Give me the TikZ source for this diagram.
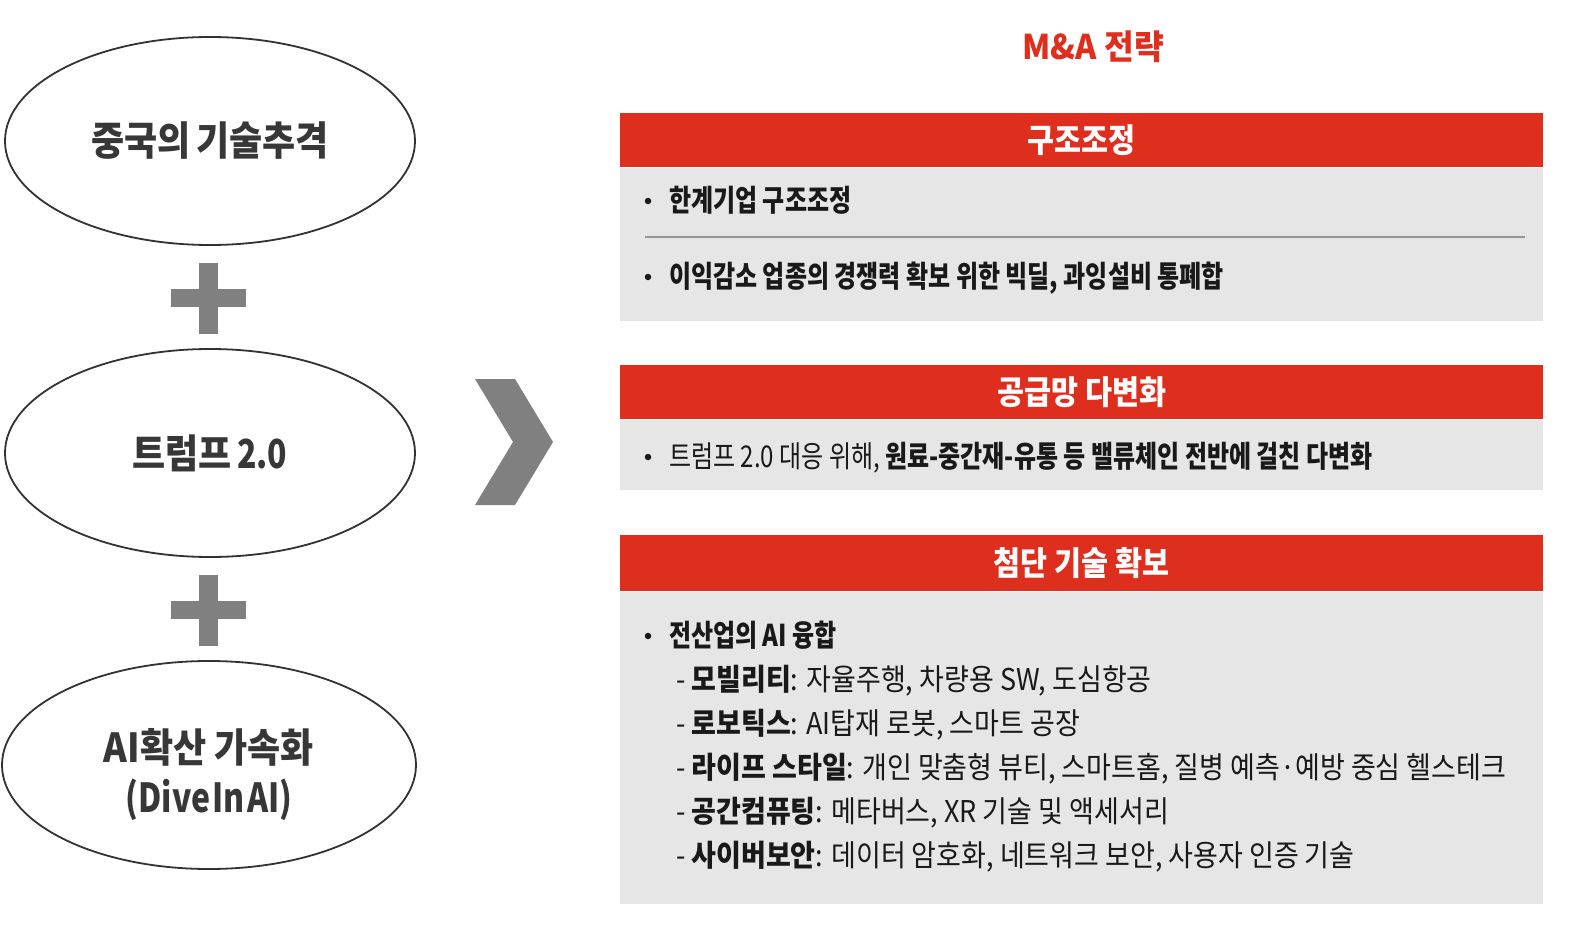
\documentclass[tikz,border=0pt]{standalone}
\usepackage{fontspec}
\usetikzlibrary{shapes.geometric}
\newfontfamily\krbul{Noto Sans CJK KR}[FakeStretch=0.8]
\newfontfamily\krsub{Noto Sans CJK KR}[FakeStretch=0.9]
\newfontfamily\krhdr{Noto Sans CJK KR}[FakeStretch=0.89]
\newfontfamily\krttl{Noto Sans CJK KR}[FakeStretch=0.95]
\newfontfamily\krell{Noto Sans CJK KR}[FakeStretch=0.9]
\newfontfamily\krellnar{Noto Sans CJK KR}[FakeStretch=0.8]
\definecolor{hred}{RGB}{222,46,30}
\definecolor{bodyg}{RGB}{230,230,230}
\definecolor{plusg}{RGB}{128,128,128}
\definecolor{txtc}{RGB}{25,25,25}
\definecolor{ellc}{RGB}{50,50,50}
\definecolor{elltxt}{RGB}{55,55,55}
\definecolor{sepc}{RGB}{150,150,150}
\tikzset{
  ellnode/.style={ellipse, draw=ellc, line width=1.8pt, minimum width=410, minimum height=208, inner sep=0},
  elltext/.style={font=\krell\bfseries\fontsize{40pt}{50pt}\selectfont, text=elltxt, align=center, inner sep=0},
  hdr/.style={fill=hred, minimum width=923, inner sep=0, anchor=north west, font=\krhdr\bfseries\fontsize{33pt}{38pt}\selectfont, text=white},
  bodybox/.style={fill=bodyg, minimum width=923, inner sep=0, anchor=north west},
  bultext/.style={anchor=west, inner sep=0, text=txtc, font=\krbul\bfseries\fontsize{30pt}{36pt}\selectfont, text height=24pt, text depth=1.5pt},
  subtext/.style={anchor=west, inner sep=0, text=txtc, font=\krsub\fontsize{30pt}{36pt}\selectfont, text height=24pt, text depth=1.5pt},
  dotmark/.style={circle, fill=txtc, inner sep=0, minimum size=6.5},
}
\begin{document}
\begin{tikzpicture}[x=1pt,y=-1pt]
\useasboundingbox (0,0) rectangle (1588,936);
\fill[white] (0,0) rectangle (1588,936);

% left ellipses
\node[ellnode] (e1) at (210,141) {};
\node[elltext] (t1) at (e1.center) {중국의\hspace{-3pt} 기술추격};
\node[ellnode] (e2) at (210,453) {};
\node[elltext] (t2) at (e2.center) {트럼프\hspace{-3pt} {\krellnar 2.0}};
\node[ellnode, minimum width=414] (e3) at (209,765) {};
\node[elltext] (t3) at ([yshift=-10pt]e3.center) {AI확산 가속화\\{\krellnar (Dive\hspace{-5pt} In\hspace{-5pt} AI)}};

% plus signs
\fill[plusg] (171,289) rectangle (246,307);
\fill[plusg] (199,263) rectangle (218,334);
\fill[plusg] (171,601) rectangle (246,619);
\fill[plusg] (199,575) rectangle (218,646);

% chevron
\fill[plusg] (475,379) -- (515,379) -- (553,442) -- (515,505) -- (475,505) -- (513,442) -- cycle;

% title
\node[font=\krttl\bfseries\fontsize{34pt}{40pt}\selectfont, text=hred, inner sep=0] (title) at (1093,47) {M\&A 전략};

% panel 1
\node[hdr, minimum height=54] (h1) at (620,113) {구조조정};
\node[bodybox, minimum height=153] (b1) at (h1.south west) {};
\node[dotmark] (d11) at (648,201) {};
\node[bultext] (l11) at (669,200) {한계기업 구조조정};
\draw[sepc, line width=1.5pt] (645,237) -- (1525,237);
\node[dotmark] (d12) at (648,277) {};
\node[bultext] (l12) at (669,276) {이익감소 업종의 경쟁력 확보 위한 빅딜, 과잉설비 통폐합};

% panel 2
\node[hdr, minimum height=54] (h2) at (620,365) {공급망 다변화};
\node[bodybox, minimum height=70] (b2) at (h2.south west) {};
\node[dotmark] (d21) at (648,457) {};
\node[bultext] (l21) at (669,456) {\mdseries 트럼프 2.0 대응 위해, \bfseries 원료-중간재-유통 등 밸류체인 전반에 걸친 다변화};

% panel 3
\node[hdr, minimum height=56] (h3) at (620,535) {첨단 기술 확보};
\node[bodybox, minimum height=312] (b3) at (h3.south west) {};
\node[dotmark] (d31) at (648,636) {};
\node[bultext] (l31) at (669,635) {전산업의 AI 융합};
\node[subtext] (l32) at (676,679) {- \textbf{모빌리티}: 자율주행, 차량용 SW, 도심항공};
\node[subtext] (l33) at (676,723) {- \textbf{로보틱스}: AI탑재 로봇, 스마트 공장};
\node[subtext] (l34) at (676,767) {- \textbf{라이프 스타일}: 개인 맞춤형 뷰티, 스마트홈, 질병 예측·예방 중심 헬스테크};
\node[subtext] (l35) at (676,811) {- \textbf{공간컴퓨팅}: 메타버스, XR 기술 및 액세서리};
\node[subtext] (l36) at (676,855) {- \textbf{사이버보안}: 데이터 암호화, 네트워크 보안, 사용자 인증 기술};
\end{tikzpicture}
\end{document}
